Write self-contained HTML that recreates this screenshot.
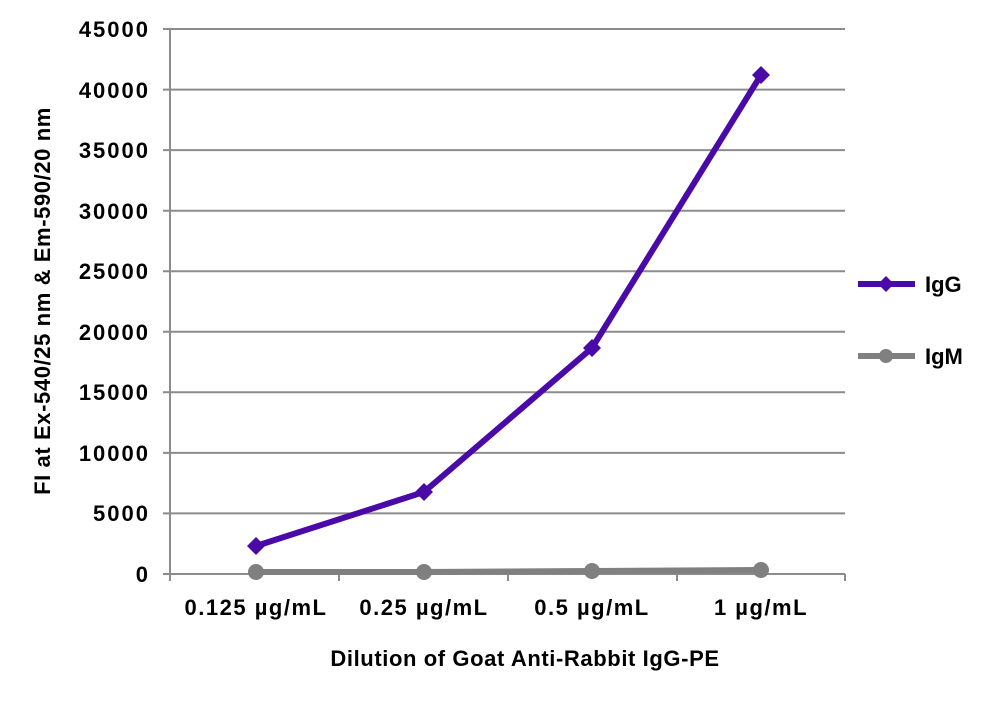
<!DOCTYPE html>
<html><head><style>body{margin:0;background:#fff}</style></head><body>
<svg width="1000" height="696" xmlns="http://www.w3.org/2000/svg" font-family="Liberation Sans, sans-serif" font-weight="bold">
<g stroke="#8c8c8c" stroke-width="2">
<line x1="163" x2="845" y1="29" y2="29"/><line x1="163" x2="845" y1="89.6" y2="89.6"/><line x1="163" x2="845" y1="150.1" y2="150.1"/><line x1="163" x2="845" y1="210.7" y2="210.7"/><line x1="163" x2="845" y1="271.2" y2="271.2"/><line x1="163" x2="845" y1="331.8" y2="331.8"/><line x1="163" x2="845" y1="392.3" y2="392.3"/><line x1="163" x2="845" y1="452.9" y2="452.9"/><line x1="163" x2="845" y1="513.4" y2="513.4"/><line x1="163" x2="845" y1="574" y2="574"/>
<line x1="170" x2="170" y1="29" y2="581"/>
<line x1="339" x2="339" y1="574" y2="581"/><line x1="508" x2="508" y1="574" y2="581"/><line x1="677" x2="677" y1="574" y2="581"/><line x1="845" x2="845" y1="574" y2="581"/>
</g>
<g font-size="22" text-anchor="end" fill="#000" letter-spacing="2">
<text x="150" y="37">45000</text><text x="150" y="98">40000</text><text x="150" y="158">35000</text><text x="150" y="219">30000</text><text x="150" y="279">25000</text><text x="150" y="340">20000</text><text x="150" y="400">15000</text><text x="150" y="461">10000</text><text x="150" y="521">5000</text><text x="150" y="582">0</text>
</g>
<g font-size="22" text-anchor="middle">
<text x="256" y="615" letter-spacing="1.5">0.125 µg/mL</text><text x="424" y="615" letter-spacing="1.5">0.25 µg/mL</text><text x="592" y="615" letter-spacing="1.5">0.5 µg/mL</text><text x="761" y="615" letter-spacing="1.5">1 µg/mL</text>
<text x="525" y="666" letter-spacing="0.6">Dilution of Goat Anti-Rabbit IgG-PE</text>
<text transform="translate(50,301) rotate(-90)" letter-spacing="0.6">FI at Ex-540/25 nm &amp; Em-590/20 nm</text>
</g>
<polyline points="256,572 424,572 592,571 761,570" fill="none" stroke="#808080" stroke-width="6"/>
<g fill="#808080"><circle cx="256" cy="572" r="8"/><circle cx="424" cy="572" r="8"/><circle cx="592" cy="571" r="8"/><circle cx="761" cy="570" r="8"/></g>
<polyline points="256,546 424,492 592,348 761,75" fill="none" stroke="#4a0aa8" stroke-width="6"/>
<g fill="#4a0aa8"><path d="M256 537l9 9-9 9-9-9z"/><path d="M424 483l9 9-9 9-9-9z"/><path d="M592 339l9 9-9 9-9-9z"/><path d="M761 66l9 9-9 9-9-9z"/></g>
<line x1="858" x2="915" y1="284" y2="284" stroke="#4a0aa8" stroke-width="6"/><path d="M886 276l8 8-8 8-8-8z" fill="#4a0aa8"/>
<line x1="858" x2="915" y1="356" y2="356" stroke="#808080" stroke-width="6"/><circle cx="886" cy="356" r="7" fill="#808080"/>
<g font-size="22"><text x="925" y="292">IgG</text><text x="925" y="364">IgM</text></g>
</svg>
</body></html>
